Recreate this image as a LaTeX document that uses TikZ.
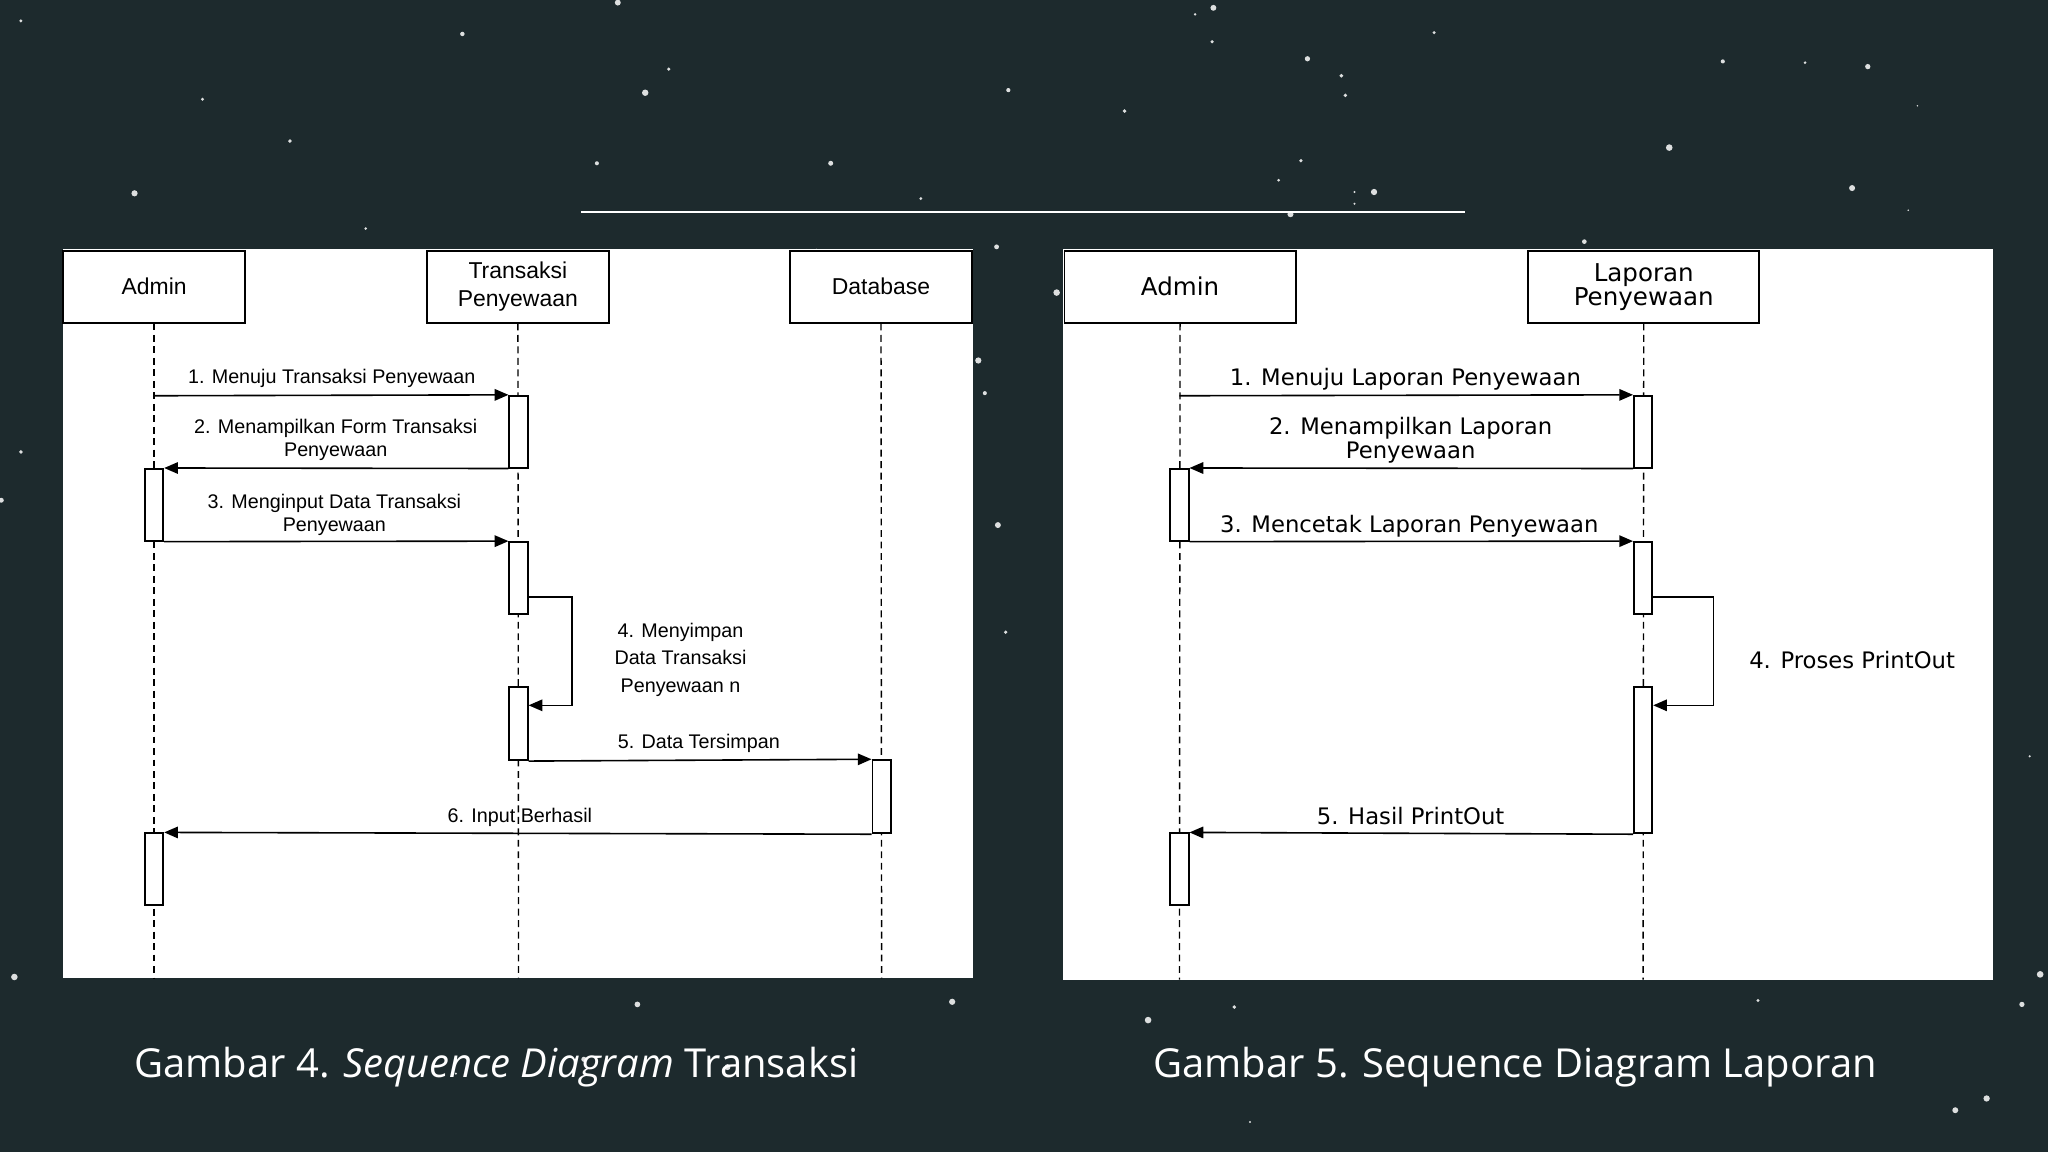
\documentclass[tikz,border=0pt]{standalone}
\usepackage{fontspec}
\setmainfont{Liberation Sans}
\newfontfamily\dejavu{DejaVu Sans}
\newfontfamily\opensans{Open Sans}
\usetikzlibrary{arrows.meta}
\definecolor{bgc}{HTML}{1D2A2D}
\tikzset{
  actor/.style={draw=black,fill=white,line width=0.8pt,minimum width=2.78cm,minimum height=1.1cm,align=center,inner sep=1pt},
  actorR/.style={actor,minimum width=3.54cm},
  life/.style={dashed,line width=0.6pt,dash pattern=on 3pt off 2pt},
  act/.style={draw=black,fill=white,line width=0.8pt,minimum width=0.28cm,inner sep=0pt},
  msg/.style={line width=0.7pt,-{Triangle[length=6pt,width=5pt]}},
  lbl/.style={font=\fontsize{8.6}{10}\selectfont,align=center,inner sep=1pt},
  lblR/.style={font=\dejavu\fontsize{9.9}{10.2}\selectfont,align=center,inner sep=1pt},
  captext/.style={text=white,font=\opensans\fontsize{17.4}{20}\selectfont}
}
\begin{document}
\begin{tikzpicture}[x=0.02cm,y=-0.02cm]
\fill[bgc] (0,0) rectangle (1568,882);
\useasboundingbox (0,0) rectangle (1568,882);
\pgfmathsetseed{7}
\foreach \i in {1,...,140}{
  \pgfmathsetmacro{\sx}{random(0,1568)}
  \pgfmathsetmacro{\sy}{random(0,882)}
  \pgfmathsetmacro{\sr}{0.6+rnd*2}
  \fill[white,opacity=0.85] (\sx,\sy) circle[radius=\sr];
}
\draw[white,line width=0.8pt] (445,162) -- (1122,162);
% ---------- left panel
\fill[white] (48,191) rectangle (745,749);
\node[actor] (a1) at (118,219.5) {Admin};
\node[actor] (t1) at (396.5,219.5) {Transaksi\\Penyewaan};
\node[actor] (d1) at (674.5,219.5) {Database};
\coordinate (a1e) at (118,749); \coordinate (t1e) at (397,749); \coordinate (d1e) at (675,749);
\draw[life] (a1) -- (a1e); \draw[life] (t1) -- (t1e); \draw[life] (d1) -- (d1e);
\node[act,minimum height=1.1cm] (tA) at (397,330.5) {};
\node[act,minimum height=1.1cm] (aA) at (118,386.5) {};
\node[act,minimum height=1.1cm] (tB) at (397,442.5) {};
\node[act,minimum height=1.12cm] (tC) at (397,554) {};
\node[act,minimum height=1.12cm] (dA) at (675,610) {};
\node[act,minimum height=1.1cm] (aB) at (118,665.5) {};
\coordinate (m1s) at (118,303);
\draw[msg] (m1s) -- (tA.north west);
\node[lbl] at (254,290) {1. Menuju Transaksi Penyewaan};
\draw[msg] (tA.south west) -- (aA.north east);
\node[lbl] at (257,337) {2. Menampilkan Form Transaksi\\Penyewaan};
\draw[msg] (aA.south east) -- (tB.north west);
\node[lbl] at (256,394) {3. Menginput Data Transaksi\\Penyewaan};
\coordinate (l1) at (438,457); \coordinate (l2) at (438,540);
\draw[msg] (tB.east |- l1) -- (l1) -- (l2) -- (tC.east |- l2);
\node[lbl,font=\fontsize{8.6}{12}\selectfont] at (521,505) {4. Menyimpan\\Data Transaksi\\Penyewaan n};
\draw[msg] (tC.south east) -- (dA.north west);
\node[lbl] at (535,569) {5. Data Tersimpan};
\draw[msg] (dA.south west) -- (aB.north east);
\node[lbl] at (398,626) {6. Input Berhasil};
% ---------- right panel
\fill[white] (814,191) rectangle (1526,750);
\node[actorR,font=\dejavu\fontsize{10.7}{11}\selectfont] (a2) at (903.5,219.5) {Admin};
\node[actorR,font=\dejavu\fontsize{10.7}{10.5}\selectfont] (l2n) at (1258.5,219.5) {Laporan\\Penyewaan};
\coordinate (a2e) at (903,750); \coordinate (l2e) at (1258,750);
\draw[life] (a2) -- (a2e); \draw[life] (l2n) -- (l2e);
\node[act,minimum height=1.1cm] (lA) at (1258,330.5) {};
\node[act,minimum height=1.1cm] (bA) at (903,386.5) {};
\node[act,minimum height=1.1cm] (lB) at (1258,442.5) {};
\node[act,minimum height=2.24cm] (lC) at (1258,582) {};
\node[act,minimum height=1.1cm] (bB) at (903,665.5) {};
\coordinate (n1s) at (903,303);
\draw[msg] (n1s) -- (lA.north west);
\node[lblR] at (1076,290) {1. Menuju Laporan Penyewaan};
\draw[msg] (lA.south west) -- (bA.north east);
\node[lblR] at (1080,337) {2. Menampilkan Laporan\\Penyewaan};
\draw[msg] (bA.south east) -- (lB.north west);
\node[lblR] at (1079,403) {3. Mencetak Laporan Penyewaan};
\coordinate (k1) at (1312,457); \coordinate (k2) at (1312,540);
\draw[msg] (lB.east |- k1) -- (k1) -- (k2) -- (lC.east |- k2);
\node[lblR] at (1418,505) {4. Proses PrintOut};
\draw[msg] (lC.south west) -- (bB.north east);
\node[lblR] at (1080,625) {5. Hasil PrintOut};
% captions
\node[captext] (c1) at (380,817) {Gambar 4. \textit{Sequence Diagram} Transaksi};
\node[captext] (c2) at (1160,817) {Gambar 5. Sequence Diagram Laporan};
\end{tikzpicture}
\end{document}
